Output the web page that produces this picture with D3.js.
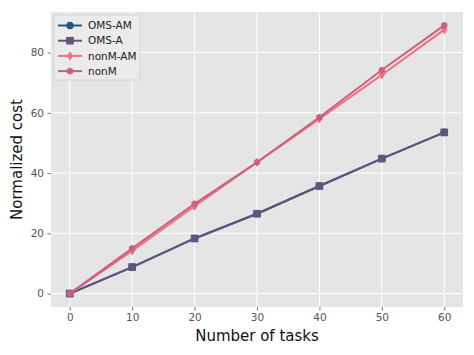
<!DOCTYPE html>
<html><head><meta charset="utf-8">
<script src="https://cdn.jsdelivr.net/npm/d3@7"></script>
<style>body{margin:0;background:#fff}svg{display:block}text{font-family:"DejaVu Sans",sans-serif}</style>
</head><body><svg id="c" width="474" height="355"></svg>
<script>
const tasks = [0, 10, 20, 30, 40, 50, 60];
const omsAM = [0, 8.8, 18.3, 26.5, 35.7, 44.8, 53.5];
const omsA = [0, 8.8, 18.3, 26.5, 35.7, 44.8, 53.5];
const nonMAM = [0, 14.2, 29.0, 43.5, 58.0, 72.6, 87.6];
const nonM = [0, 15.0, 29.8, 43.6, 58.5, 74.2, 89.0];
const xTicks = [0, 10, 20, 30, 40, 50, 60];
const yTicks = [0, 20, 40, 60, 80];
const seriesNames = ["OMS-AM", "OMS-A", "nonM-AM", "nonM"];

const series = [
  {name: seriesNames[0], values: omsAM, color: "#255a7e", marker: "circle"},
  {name: seriesNames[1], values: omsA, color: "#65527d", marker: "square"},
  {name: seriesNames[2], values: nonMAM, color: "#f2717f", marker: "diamond"},
  {name: seriesNames[3], values: nonM, color: "#c6627f", marker: "hex"}
];

const svg = d3.select("#c");
const L = 51, R = 463, T = 12, B = 307;
const x = d3.scaleLinear().domain([-3, 63]).range([L, R]);
const y = d3.scaleLinear().domain([-4.45, 93.45]).range([B, T]);

svg.append("rect").attr("x", L).attr("y", T).attr("width", R - L).attr("height", B - T).attr("fill", "#e5e5e5");

// grid
svg.append("g").selectAll("line").data(xTicks).join("line")
  .attr("x1", d => x(d)).attr("x2", d => x(d)).attr("y1", T).attr("y2", B)
  .attr("stroke", "#fff").attr("stroke-width", 1);
svg.append("g").selectAll("line").data(yTicks).join("line")
  .attr("y1", d => y(d)).attr("y2", d => y(d)).attr("x1", L).attr("x2", R)
  .attr("stroke", "#fff").attr("stroke-width", 1);

// axes
const xa = svg.append("g").attr("transform", `translate(0,${B})`)
  .call(d3.axisBottom(x).tickValues(xTicks).tickSize(3.5).tickPadding(3.5).tickFormat(d3.format("d")));
const ya = svg.append("g").attr("transform", `translate(${L},0)`)
  .call(d3.axisLeft(y).tickValues(yTicks).tickSize(3.5).tickPadding(3.5).tickFormat(d3.format("d")));
[xa, ya].forEach(a => {
  a.select(".domain").remove();
  a.selectAll(".tick line").attr("stroke", "#555").attr("stroke-width", 0.8);
  a.selectAll(".tick text").attr("fill", "#555").style("font-size", "10.5px").style("font-family", "DejaVu Sans");
});

svg.append("text").attr("x", (L + R) / 2).attr("y", 341).attr("text-anchor", "middle")
  .style("font-size", "15px").attr("fill", "#111").text("Number of tasks");
svg.append("text").attr("transform", `translate(22,${(T + B) / 2}) rotate(-90)`).attr("text-anchor", "middle")
  .style("font-size", "15px").attr("fill", "#111").text("Normalized cost");

function marker(g, type, color, cx, cy) {
  if (type === "circle") g.append("circle").attr("cx", cx).attr("cy", cy).attr("r", 3.8).attr("fill", color);
  else if (type === "square") g.append("rect").attr("x", cx - 3.8).attr("y", cy - 3.8).attr("width", 7.6).attr("height", 7.6).attr("fill", color);
  else if (type === "diamond") g.append("path").attr("d", `M${cx},${cy-4.6}L${cx+3.2},${cy}L${cx},${cy+4.6}L${cx-3.2},${cy}Z`).attr("fill", color);
  else g.append("path").attr("d", d3.line()(d3.range(6).map(i => [cx + 3.6 * Math.sin(i * Math.PI / 3), cy - 3.6 * Math.cos(i * Math.PI / 3)])) + "Z").attr("fill", color);
}

const line = d3.line().x((d, i) => x(tasks[i])).y(d => y(d));
series.forEach(s => {
  const g = svg.append("g");
  g.append("path").attr("d", line(s.values)).attr("fill", "none").attr("stroke", s.color).attr("stroke-width", 2);
  s.values.forEach((v, i) => marker(g, s.marker, s.color, x(tasks[i]), y(v)));
});

// legend
const lg = svg.append("g");
lg.append("rect").attr("x", 54).attr("y", 15).attr("width", 86).attr("height", 65).attr("rx", 2)
  .attr("fill", "#ebebeb").attr("fill-opacity", 0.9).attr("stroke", "#d0d0d0").attr("stroke-width", 0.8);
series.forEach((s, i) => {
  const cy = 25.5 + i * 15.2;
  lg.append("line").attr("x1", 58).attr("x2", 82).attr("y1", cy).attr("y2", cy).attr("stroke", s.color).attr("stroke-width", 2);
  marker(lg, s.marker, s.color, 70, cy);
  lg.append("text").attr("x", 88).attr("y", cy).attr("dy", "0.35em").style("font-size", "10.5px").attr("fill", "#222").text(s.name);
});
</script></body></html>
